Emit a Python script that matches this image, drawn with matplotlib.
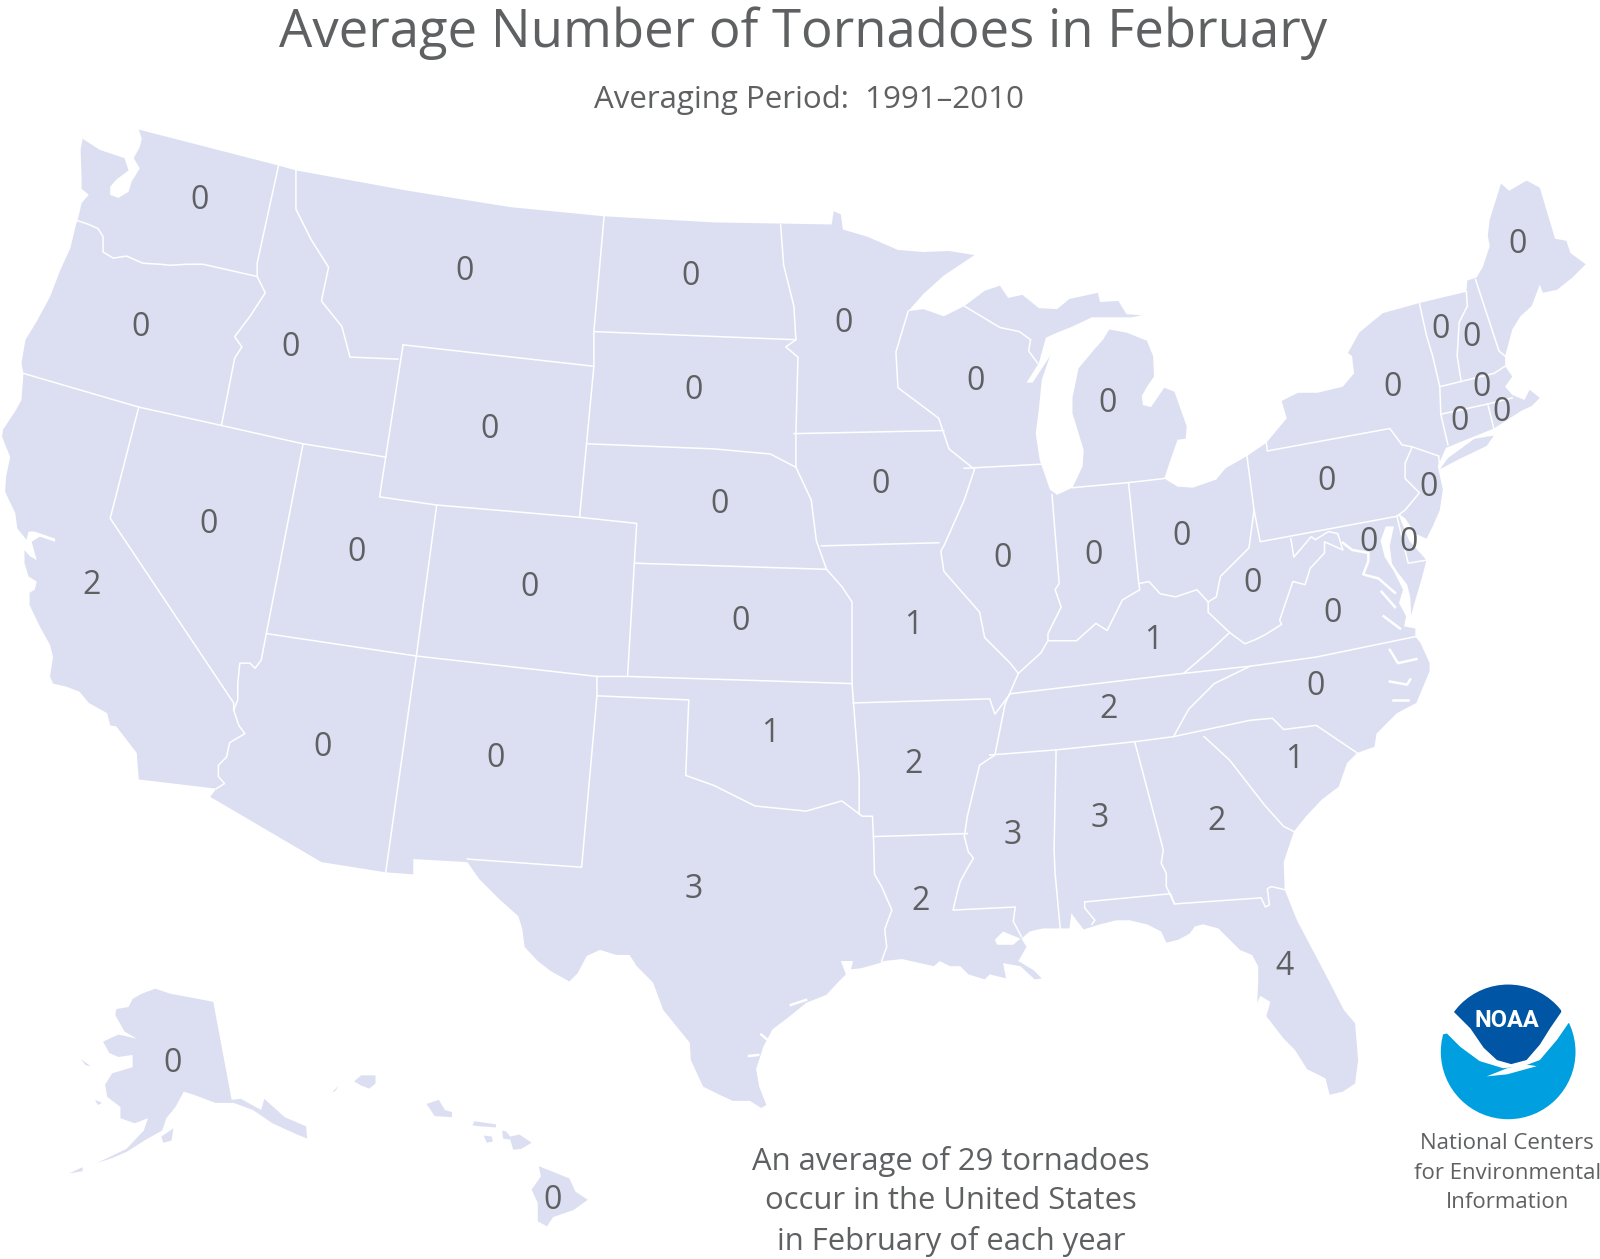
import matplotlib
matplotlib.use("Agg")
import matplotlib.pyplot as plt
from matplotlib.patches import Circle, Polygon

plt.rcParams["font.family"] = ["Open Sans", "DejaVu Sans"]

LAND = "#dcdff1"
TEXT = "#5f6062"

STATES = ["WA", "OR", "CA", "NV", "ID", "MT", "WY", "UT", "AZ", "CO", "NM", "ND", "SD", "NE", "KS", "OK", "TX",
          "MN", "IA", "MO", "AR", "LA", "WI", "IL", "MI", "IN", "OH", "KY", "TN", "MS", "AL", "GA", "FL", "SC",
          "NC", "VA", "WV", "PA", "NY", "ME", "VT", "NH", "MA", "CT", "RI", "NJ", "DE", "MD", "AK", "HI"]
TORNADOES = [0, 0, 2, 0, 0, 0, 0, 0, 0, 0, 0, 0, 0, 0, 0, 1, 3,
             0, 0, 1, 2, 2, 0, 0, 0, 0, 0, 1, 2, 3, 3, 2, 4, 1,
             0, 0, 0, 0, 0, 0, 0, 0, 0, 0, 0, 0, 0, 0, 0, 0]
LABEL_X = [196, 138, 90, 204, 285, 455, 480, 349, 316, 519, 486, 677, 680, 705, 726, 755, 680,
           827, 863, 895, 895, 902, 956, 983, 1085, 1072, 1158, 1130, 1086, 992, 1078, 1192, 1259, 1268,
           1289, 1306, 1228, 1300, 1365, 1487, 1412, 1442, 1452, 1430, 1472, 1400, 1380, 1341, 169, 542]
LABEL_Y = [195, 319, 572, 512, 339, 264, 419, 540, 731, 574, 741, 269, 381, 492, 607, 717, 870,
           315, 473, 611, 747, 882, 372, 545, 393, 542, 524, 626, 693, 817, 800, 803, 945, 742,
           671, 599, 570, 470, 378, 238, 321, 329, 378, 411, 402, 476, 530, 530, 1040, 1175]

TITLE = "Average Number of Tornadoes in February"
SUBTITLE = "Averaging Period:  1991\u20132010"
NOTE = ["An average of 29 tornadoes", "occur in the United States", "in February of each year"]
CENTER_NAME = ["National Centers", "for Environmental", "Information"]

# map shapes, traced in picture units
LOWER_48 = [
    (81, 136), (98, 147), (122, 155), (126, 167), (114, 176), (108, 183), (108, 191), (116, 194), (126, 188), (129, 178),
    (137, 165), (131, 155), (137, 144), (139, 136), (136, 127),
    (272, 162), (290, 167), (400, 187), (500, 203), (592, 212), (700, 218), (815, 220), (817, 207), (824, 210),
    (826, 225), (850, 232), (880, 245), (905, 247), (930, 246), (955, 250), (925, 270), (905, 288), (890, 305),
    (905, 303), (925, 310), (945, 300), (965, 285), (980, 280), (988, 292), (1002, 289), (1018, 302), (1036, 303),
    (1048, 293), (1076, 287), (1078, 296), (1096, 295), (1104, 308), (1119, 309), (1109, 311), (1089, 311),
    (1070, 311), (1051, 320), (1036, 326), (1025, 331), (1018, 356), (1006, 375), (1012, 375), (1029, 349),
    (1021, 372), (1018, 402), (1015, 425), (1019, 451), (1029, 480), (1036, 485), (1051, 478), (1061, 457),
    (1062, 441), (1051, 405), (1051, 390), (1057, 361), (1072, 343), (1081, 333), (1087, 323), (1104, 326),
    (1124, 334), (1130, 349), (1131, 369), (1124, 379), (1119, 388), (1120, 397), (1128, 399), (1141, 380),
    (1151, 384), (1163, 418), (1162, 430), (1154, 431), (1147, 451), (1141, 469), (1154, 477), (1169, 478),
    (1192, 470), (1201, 459), (1222, 447), (1241, 434), (1261, 410), (1256, 393), (1272, 385), (1291, 385),
    (1316, 379), (1327, 366), (1325, 349), (1321, 346), (1332, 326), (1355, 307), (1391, 297), (1437, 286),
    (1438, 275), (1447, 272), (1453, 262), (1460, 241), (1458, 231), (1460, 215), (1471, 180), (1479, 187),
    (1496, 177), (1509, 184), (1524, 234), (1535, 236), (1539, 248), (1554, 259), (1541, 272), (1526, 284),
    (1512, 287), (1509, 279), (1501, 300), (1490, 310), (1482, 323), (1475, 349), (1475, 359), (1482, 369),
    (1475, 379), (1482, 387), (1494, 392), (1499, 382), (1509, 390), (1501, 398), (1492, 402), (1464, 420),
    (1417, 439), (1409, 457), (1414, 480), (1411, 500), (1404, 516), (1398, 528), (1387, 523), (1377, 508),
    (1370, 503), (1381, 530), (1398, 549), (1393, 568), (1385, 595), (1383, 603), (1382, 585), (1379, 573),
    (1369, 560), (1364, 552), (1362, 535), (1366, 516), (1358, 516), (1353, 530), (1357, 546), (1366, 560),
    (1375, 578), (1371, 591), (1378, 604), (1376, 614), (1387, 616), (1387, 624), (1392, 630), (1401, 650),
    (1401, 658), (1388, 689), (1369, 699), (1349, 719), (1347, 732), (1330, 738), (1320, 748), (1312, 771),
    (1295, 784), (1280, 800), (1268, 815), (1258, 845), (1259, 872),
    (1271, 902), (1290, 938), (1299, 955), (1317, 990), (1328, 1003), (1331, 1039), (1328, 1062), (1316, 1070),
    (1303, 1073), (1299, 1057), (1281, 1048), (1269, 1029), (1258, 1018), (1241, 996), (1245, 982), (1235, 976),
    (1232, 983), (1233, 964), (1233, 947), (1227, 936), (1215, 931), (1204, 920), (1194, 910), (1179, 906),
    (1171, 908), (1166, 915), (1155, 921), (1143, 924), (1138, 913), (1124, 906), (1107, 902), (1094, 902),
    (1078, 906), (1062, 911), (1055, 902), (1050, 895), (1048, 910), (1039, 910), (1022, 910), (1009, 913),
    (1001, 920), (1006, 928), (998, 942), (1013, 951), (1021, 959), (1014, 960), (1000, 947), (983, 944),
    (986, 959), (970, 955), (965, 960), (949, 955), (941, 947), (931, 947), (921, 942), (915, 947), (884, 940),
    (866, 942), (862, 944), (844, 949), (834, 950), (836, 942), (824, 942), (829, 955), (821, 963), (810, 975),
    (790, 983), (774, 996), (757, 1009), (748, 1026), (741, 1048), (744, 1065), (751, 1083), (746, 1086),
    (735, 1079), (718, 1079), (705, 1073), (689, 1065), (677, 1039), (676, 1022), (663, 1006), (650, 990),
    (640, 963), (624, 947), (617, 936), (604, 936), (588, 931), (575, 937), (566, 954), (558, 962), (540, 952),
    (527, 942), (514, 928), (512, 911), (508, 898), (490, 882), (470, 862), (458, 845), (405, 842), (405, 857),
    (378, 855), (315, 845), (206, 781), (212, 773), (136, 764), (134, 738), (114, 712), (108, 711), (105, 699),
    (87, 689), (78, 678), (65, 673), (52, 670), (49, 663), (52, 644), (49, 632), (39, 614), (29, 593), (29, 581),
    (34, 578), (36, 570), (28, 565), (24, 552), (24, 539), (29, 545), (36, 549), (31, 531), (39, 526), (54, 531),
    (54, 528), (34, 521), (28, 521), (26, 529), (17, 518), (15, 503), (5, 482), (6, 467), (10, 448), (2, 428),
    (3, 421), (15, 403), (21, 392), (23, 366), (21, 356), (25, 333), (36, 315), (49, 291), (59, 265), (69, 243),
    (74, 222), (77, 212), (80, 199), (87, 191), (80, 185), (80, 176), (79, 147),
]
LONG_ISLAND = [(1411, 460), (1419, 449), (1445, 430), (1464, 427), (1457, 437), (1430, 450)]
LAKE_PONTCHARTRAIN = [(975, 921), (983, 913), (1000, 920), (993, 926), (977, 926)]

BORDERS = [
    [(75, 216), (87, 220), (96, 224), (101, 232), (101, 247), (111, 253), (124, 251), (140, 258), (157, 259), (167, 260),
     (183, 259), (199, 259), (252, 271)],
    [(273, 162), (252, 258), (252, 271), (260, 287), (245, 310), (230, 330), (237, 340), (230, 351), (217, 417)],
    [(290, 167), (290, 205), (305, 235), (322, 262), (315, 295), (335, 320), (343, 350), (390, 352)],
    [(395, 338), (378, 448), (372, 487), (428, 495), (568, 507), (624, 513), (615, 663)],
    [(395, 338), (582, 359), (568, 507)],
    [(23, 366), (136, 399), (217, 417), (297, 435), (378, 448)],
    [(136, 399), (108, 508), (229, 689), (229, 696), (234, 711), (240, 719), (225, 728), (222, 742), (214, 750), (214, 761),
     (220, 768), (212, 773)],
    [(297, 435), (261, 621), (256, 647), (250, 655), (245, 650), (235, 650), (233, 670), (233, 686), (229, 696)],
    [(261, 621), (408, 643), (585, 663), (615, 663), (835, 670)],
    [(428, 495), (408, 643), (378, 855)],
    [(592, 212), (582, 325), (582, 359)],
    [(582, 325), (780, 333)],
    [(576, 435), (700, 440), (755, 445), (780, 458), (795, 490), (800, 530), (810, 558), (825, 575), (835, 590), (835, 670)],
    [(765, 220), (768, 260), (778, 300), (780, 333), (770, 340), (782, 350), (780, 425), (780, 445), (780, 458)],
    [(622, 552), (810, 558)],
    [(585, 663), (585, 682), (675, 686), (672, 760), (700, 770), (740, 790), (790, 795), (825, 785), (845, 800), (855, 800), (856, 820)],
    [(835, 670), (842, 762), (842, 798)],
    [(836, 689), (970, 685), (975, 700), (990, 680)],
    [(585, 682), (570, 850), (458, 842)],
    [(856, 820), (857, 857), (864, 869), (874, 892), (867, 911), (869, 928), (864, 942)],
    [(856, 820), (948, 817)],
    [(998, 660), (985, 690), (975, 740), (960, 750), (948, 800), (945, 820), (949, 835), (954, 841), (947, 853), (941, 864),
     (938, 875), (934, 892), (995, 889), (993, 903), (1001, 918)],
    [(805, 535), (920, 532)],
    [(778, 425), (925, 422)],
    [(890, 305), (878, 345), (880, 380), (920, 410), (925, 425), (930, 440), (955, 460), (945, 490), (925, 535),
     (922, 540), (925, 560), (960, 600), (965, 625), (990, 650), (998, 660), (1020, 640), (1027, 628)],
    [(945, 459), (1020, 455)],
    [(945, 300), (980, 321), (999, 325), (1010, 333), (1008, 344), (1017, 356)],
    [(1031, 485), (1038, 572), (1034, 578), (1040, 595), (1027, 621), (1027, 628), (1055, 628), (1074, 611),
     (1085, 618), (1100, 588), (1117, 578), (1116, 572), (1126, 570), (1137, 582), (1152, 585), (1173, 578),
     (1184, 590), (1192, 585), (1196, 565), (1205, 556), (1224, 537), (1229, 500)],
    [(1051, 478), (1106, 473), (1141, 469)],
    [(1106, 473), (1116, 572)],
    [(1222, 447), (1229, 500), (1235, 531), (1369, 506)],
    [(1241, 434), (1242, 442), (1362, 420), (1374, 436), (1384, 438), (1377, 454), (1377, 469), (1391, 483), (1377, 500),
     (1369, 506), (1380, 552), (1398, 549)],
    [(1384, 438), (1410, 447), (1411, 460)],
    [(1265, 528), (1268, 546), (1285, 526), (1289, 529), (1302, 521), (1311, 523), (1316, 539), (1298, 531), (1298, 542),
     (1284, 557), (1279, 573), (1267, 570), (1254, 608), (1256, 612), (1240, 622), (1230, 627), (1220, 631), (1205, 620),
     (1184, 600), (1184, 590)],
    [(1205, 620), (1188, 636), (1160, 660)],
    [(990, 680), (1160, 660), (1225, 653), (1290, 644), (1387, 624)],
    [(970, 740), (1035, 735), (1112, 727), (1150, 722), (1165, 695), (1190, 670), (1225, 653)],
    [(1150, 722), (1225, 706), (1247, 704), (1258, 715), (1290, 711), (1330, 738)],
    [(1180, 722), (1205, 745), (1240, 790), (1258, 810), (1268, 815)],
    [(1035, 735), (1033, 833), (1034, 856), (1039, 910)],
    [(1112, 727), (1140, 833), (1138, 846), (1143, 856), (1143, 869), (1151, 886)],
    [(1063, 884), (1063, 890), (1073, 902), (1070, 906)],
    [(1063, 884), (1147, 876), (1151, 886), (1236, 880), (1240, 889), (1244, 887), (1242, 871), (1246, 869), (1259, 872)],
    [(1391, 297), (1398, 329), (1404, 349), (1411, 379), (1412, 406), (1419, 436)],
    [(1437, 286), (1438, 300), (1430, 316), (1428, 349), (1432, 374)],
    [(1446, 274), (1469, 344), (1475, 349)],
    [(1411, 379), (1464, 366), (1475, 359)],
    [(1412, 406), (1458, 396), (1482, 390)],
    [(1458, 396), (1464, 420)],
]
RIVER_MOUTHS = [
    [(1316, 532), (1325, 539), (1341, 542), (1341, 550), (1336, 563), (1351, 567), (1367, 581)],
    [(1354, 580), (1367, 595)],
    [(1356, 604), (1372, 616)],
    [(1362, 637), (1370, 650), (1388, 646)],
    [(1362, 668), (1379, 671), (1382, 666)],
    [(1365, 686), (1380, 686)],
    [(734, 1035), (743, 1034)],
    [(746, 1014), (752, 1019)],
    [(775, 985), (790, 980)],
]

ALASKA = [
    (209, 982), (227, 1078), (236, 1077), (256, 1088), (259, 1077), (279, 1095), (300, 1104), (301, 1116), (289, 1111),
    (267, 1101), (248, 1088), (229, 1081), (211, 1081), (190, 1073), (180, 1070), (172, 1085), (163, 1096), (159, 1108),
    (143, 1117), (124, 1129), (110, 1135), (95, 1140), (124, 1126), (141, 1108), (145, 1096), (132, 1101), (118, 1096),
    (118, 1085), (105, 1075), (103, 1063), (110, 1052), (130, 1046), (130, 1034), (116, 1036), (107, 1032), (101, 1021),
    (116, 1014), (134, 1018), (122, 1011), (113, 995), (114, 989), (126, 987), (130, 979), (139, 974), (152, 969),
    (167, 974), (194, 979),
]
ALASKA_ISLANDS = [
    [(158, 1114), (170, 1106), (168, 1118), (160, 1120)],
    [(79, 1038), (89, 1045), (84, 1044)],
    [(93, 1078), (100, 1081), (96, 1083)],
    [(68, 1150), (81, 1144), (81, 1148)],
]
HAWAII = [
    [(326, 1070), (332, 1064), (328, 1070)],
    [(347, 1060), (354, 1054), (368, 1054), (368, 1062), (362, 1067), (354, 1064)],
    [(418, 1082), (430, 1078), (436, 1088), (443, 1090), (443, 1095), (426, 1094)],
    [(463, 1103), (465, 1099), (486, 1102), (486, 1105), (471, 1104)],
    [(474, 1113), (482, 1114), (483, 1119), (477, 1120)],
    [(492, 1108), (496, 1109), (500, 1114), (509, 1112), (521, 1120), (511, 1126), (503, 1127), (500, 1117), (493, 1116)],
    [(528, 1143), (558, 1155), (564, 1168), (576, 1176), (562, 1186), (542, 1193), (536, 1202), (527, 1197), (527, 1179),
     (521, 1166), (530, 1153)],
]

LOGO_CENTER = (1478, 1031)
LOGO_RADIUS = 66
LOGO_WHITE = [(1400, 1014), (1413, 1014), (1418, 1013), (1431, 1026), (1450, 1040), (1473, 1047), (1493, 1045), (1509, 1039),
              (1526, 1019), (1537, 1003), (1560, 990), (1560, 950), (1400, 950)]
LOGO_TAIL = [(1457, 1055), (1477, 1053), (1506, 1045), (1493, 1043), (1477, 1047)]
LOGO_DARK = [(1425, 992), (1441, 1008), (1454, 1027), (1467, 1039), (1481, 1043), (1496, 1039), (1509, 1024), (1519, 1008),
             (1530, 992), (1530, 950), (1425, 950)]


def add_shape(ax, points, color=LAND, zorder=1):
    shape = Polygon(points, closed=True, facecolor=color, edgecolor="none", zorder=zorder)
    ax.add_patch(shape)
    return shape


def main():
    fig = plt.figure(figsize=(16, 12.59), dpi=100)
    ax = fig.add_axes([0, 0, 1, 1])
    ax.set_xlim(0, 1568)
    ax.set_ylim(1234, 0)
    ax.axis("off")

    add_shape(ax, LOWER_48)
    add_shape(ax, LONG_ISLAND)
    add_shape(ax, ALASKA)
    for island in ALASKA_ISLANDS + HAWAII:
        add_shape(ax, island)
    add_shape(ax, LAKE_PONTCHARTRAIN, color="white", zorder=2)

    for border in BORDERS:
        xs, ys = zip(*border)
        ax.plot(xs, ys, color="white", lw=1.1, solid_joinstyle="round", zorder=2)
    for river in RIVER_MOUTHS:
        xs, ys = zip(*river)
        ax.plot(xs, ys, color="white", lw=1.8, solid_joinstyle="round", zorder=2)

    for x, y, value in zip(LABEL_X, LABEL_Y, TORNADOES):
        ax.text(x, y + 2, str(value), ha="center", va="center", fontsize=23, color=TEXT, zorder=3)

    ax.text(787, 33, TITLE, ha="center", va="center", fontsize=38, color=TEXT)
    ax.text(793, 98, SUBTITLE, ha="center", va="center", fontsize=22.5, color=TEXT)
    for y, line in zip([1138, 1177, 1217], NOTE):
        ax.text(932, y, line, ha="center", va="center", fontsize=22.3, color=TEXT)
    for y, line in zip([1121, 1150, 1179], CENTER_NAME):
        ax.text(1477, y, line, ha="center", va="center", fontsize=16, color=TEXT)

    # NOAA logo
    ax.add_patch(Circle(LOGO_CENTER, LOGO_RADIUS, facecolor="#00a0e0", edgecolor="none", zorder=4))
    add_shape(ax, LOGO_WHITE, color="white", zorder=5)
    dark = Circle(LOGO_CENTER, LOGO_RADIUS, facecolor="#0055a4", edgecolor="none", zorder=6)
    ax.add_patch(dark)
    dark.set_clip_path(Polygon(LOGO_DARK, closed=True, transform=ax.transData))
    add_shape(ax, LOGO_TAIL, color="white", zorder=7)
    ax.text(1477, 1000, "NOAA", family="Roboto", ha="center", va="center", fontsize=17, fontweight="bold",
            color="white", zorder=8)

    fig.savefig("out.png", dpi=100, facecolor="white")


if __name__ == "__main__":
    main()
